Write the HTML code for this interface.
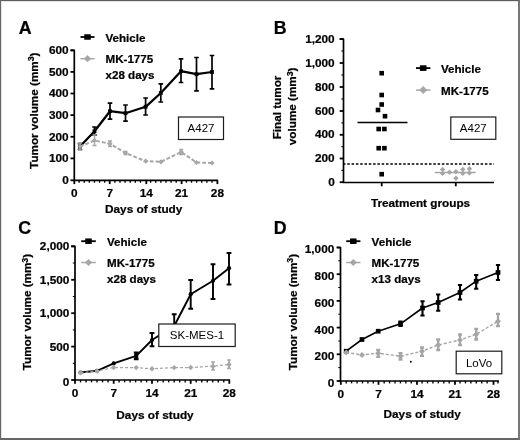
<!DOCTYPE html>
<html><head><meta charset="utf-8"><title>Figure</title>
<style>
html,body{margin:0;padding:0;background:#fff;}
body{width:520px;height:440px;overflow:hidden;position:relative;}
#frame{position:absolute;left:0;top:0;width:520px;height:440px;box-sizing:border-box;border-top:1px solid #5e5e5e;border-left:1px solid #666;box-shadow:inset 1px 1px 0 #e2e2e2;border-right:2px solid #777;border-bottom:2.3px solid #666;pointer-events:none;}
svg{position:absolute;left:0;top:0;display:block;}
svg text{font-family:"Liberation Sans",sans-serif;fill:#000;}
svg text.b{stroke:#000;stroke-width:0.22px;}
</style></head><body>
<svg width="520" height="440" viewBox="0 0 520 440">
<g id="A">
<text class="b" x="18.8" y="33.8" font-size="17.8" font-weight="bold" text-anchor="start">A</text>
<path d="M70.5 50.3H74.3V180.3H218" stroke="#000" stroke-width="1.7" fill="none" stroke-linejoin="round"/>
<path d="M70.5 50.3H74.3" stroke="#000" stroke-width="1.8"/>
<text class="b" x="68.7" y="54.25" font-size="11.8" font-weight="bold" text-anchor="end">600</text>
<path d="M70.5 71.9H74.3" stroke="#000" stroke-width="1.8"/>
<text class="b" x="68.7" y="75.85" font-size="11.8" font-weight="bold" text-anchor="end">500</text>
<path d="M70.5 93.5H74.3" stroke="#000" stroke-width="1.8"/>
<text class="b" x="68.7" y="97.45" font-size="11.8" font-weight="bold" text-anchor="end">400</text>
<path d="M70.5 115.1H74.3" stroke="#000" stroke-width="1.8"/>
<text class="b" x="68.7" y="119.05" font-size="11.8" font-weight="bold" text-anchor="end">300</text>
<path d="M70.5 136.8H74.3" stroke="#000" stroke-width="1.8"/>
<text class="b" x="68.7" y="140.75" font-size="11.8" font-weight="bold" text-anchor="end">200</text>
<path d="M70.5 158.4H74.3" stroke="#000" stroke-width="1.8"/>
<text class="b" x="68.7" y="162.35" font-size="11.8" font-weight="bold" text-anchor="end">100</text>
<path d="M70.5 180.3H74.3" stroke="#000" stroke-width="1.8"/>
<text class="b" x="68.7" y="184.25" font-size="11.8" font-weight="bold" text-anchor="end">0</text>
<path d="M74.3 180.3V184.10000000000002" stroke="#000" stroke-width="1.8"/>
<text class="b" x="74.3" y="196.9" font-size="11.8" font-weight="bold" text-anchor="middle">0</text>
<path d="M109.7 180.3V184.10000000000002" stroke="#000" stroke-width="1.8"/>
<text class="b" x="109.7" y="196.9" font-size="11.8" font-weight="bold" text-anchor="middle">7</text>
<path d="M146.3 180.3V184.10000000000002" stroke="#000" stroke-width="1.8"/>
<text class="b" x="146.3" y="196.9" font-size="11.8" font-weight="bold" text-anchor="middle">14</text>
<path d="M181.6 180.3V184.10000000000002" stroke="#000" stroke-width="1.8"/>
<text class="b" x="181.6" y="196.9" font-size="11.8" font-weight="bold" text-anchor="middle">21</text>
<path d="M217.4 180.3V184.10000000000002" stroke="#000" stroke-width="1.8"/>
<text class="b" x="217.4" y="196.9" font-size="11.8" font-weight="bold" text-anchor="middle">28</text>
<path d="M79.11 180.3V182.70000000000002" stroke="#000" stroke-width="1.35"/>
<path d="M84.22 180.3V182.70000000000002" stroke="#000" stroke-width="1.35"/>
<path d="M89.33 180.3V182.70000000000002" stroke="#000" stroke-width="1.35"/>
<path d="M94.44 180.3V182.70000000000002" stroke="#000" stroke-width="1.35"/>
<path d="M99.55 180.3V182.70000000000002" stroke="#000" stroke-width="1.35"/>
<path d="M104.66 180.3V182.70000000000002" stroke="#000" stroke-width="1.35"/>
<path d="M114.88 180.3V182.70000000000002" stroke="#000" stroke-width="1.35"/>
<path d="M119.99 180.3V182.70000000000002" stroke="#000" stroke-width="1.35"/>
<path d="M125.10 180.3V182.70000000000002" stroke="#000" stroke-width="1.35"/>
<path d="M130.21 180.3V182.70000000000002" stroke="#000" stroke-width="1.35"/>
<path d="M135.32 180.3V182.70000000000002" stroke="#000" stroke-width="1.35"/>
<path d="M140.43 180.3V182.70000000000002" stroke="#000" stroke-width="1.35"/>
<path d="M150.65 180.3V182.70000000000002" stroke="#000" stroke-width="1.35"/>
<path d="M155.76 180.3V182.70000000000002" stroke="#000" stroke-width="1.35"/>
<path d="M160.87 180.3V182.70000000000002" stroke="#000" stroke-width="1.35"/>
<path d="M165.98 180.3V182.70000000000002" stroke="#000" stroke-width="1.35"/>
<path d="M171.09 180.3V182.70000000000002" stroke="#000" stroke-width="1.35"/>
<path d="M176.20 180.3V182.70000000000002" stroke="#000" stroke-width="1.35"/>
<path d="M186.42 180.3V182.70000000000002" stroke="#000" stroke-width="1.35"/>
<path d="M191.53 180.3V182.70000000000002" stroke="#000" stroke-width="1.35"/>
<path d="M196.64 180.3V182.70000000000002" stroke="#000" stroke-width="1.35"/>
<path d="M201.75 180.3V182.70000000000002" stroke="#000" stroke-width="1.35"/>
<path d="M206.86 180.3V182.70000000000002" stroke="#000" stroke-width="1.35"/>
<path d="M211.97 180.3V182.70000000000002" stroke="#000" stroke-width="1.35"/>
<text class="b" transform="translate(37.6 110.7) rotate(-90)" font-size="11.7" font-weight="bold" text-anchor="middle">Tumor volume (mm<tspan font-size="8.8" dy="-3.4">3</tspan><tspan dy="3.4">)</tspan></text>
<text class="b" x="143.7" y="212.7" font-size="11.8" font-weight="bold" text-anchor="middle">Days of study</text>
<polyline points="80.00,146.50 94.50,131.20 110.00,111.20 125.50,113.20 145.60,106.80 160.80,93.00 181.00,71.20 196.50,74.20 212.00,72.00" fill="none" stroke="#000" stroke-width="2.25" stroke-linejoin="round"/>
<path d="M80.00 143.50V149.50M77.70 143.50H82.30M77.70 149.50H82.30" stroke="#000" stroke-width="1.7" fill="none"/>
<rect x="78.10" y="144.60" width="3.8" height="3.8" fill="#000"/>
<path d="M94.50 127.00V135.20M92.20 127.00H96.80M92.20 135.20H96.80" stroke="#000" stroke-width="1.7" fill="none"/>
<rect x="92.60" y="129.30" width="3.8" height="3.8" fill="#000"/>
<path d="M110.00 103.20V119.20M107.70 103.20H112.30M107.70 119.20H112.30" stroke="#000" stroke-width="1.7" fill="none"/>
<rect x="108.10" y="109.30" width="3.8" height="3.8" fill="#000"/>
<path d="M125.50 105.00V121.20M123.20 105.00H127.80M123.20 121.20H127.80" stroke="#000" stroke-width="1.7" fill="none"/>
<rect x="123.60" y="111.30" width="3.8" height="3.8" fill="#000"/>
<path d="M145.60 98.00V115.00M143.30 98.00H147.90M143.30 115.00H147.90" stroke="#000" stroke-width="1.7" fill="none"/>
<rect x="143.70" y="104.90" width="3.8" height="3.8" fill="#000"/>
<path d="M160.80 83.80V102.00M158.50 83.80H163.10M158.50 102.00H163.10" stroke="#000" stroke-width="1.7" fill="none"/>
<rect x="158.90" y="91.10" width="3.8" height="3.8" fill="#000"/>
<path d="M181.00 58.80V82.50M178.70 58.80H183.30M178.70 82.50H183.30" stroke="#000" stroke-width="1.7" fill="none"/>
<rect x="179.10" y="69.30" width="3.8" height="3.8" fill="#000"/>
<path d="M196.50 57.50V90.80M194.20 57.50H198.80M194.20 90.80H198.80" stroke="#000" stroke-width="1.7" fill="none"/>
<rect x="194.60" y="72.30" width="3.8" height="3.8" fill="#000"/>
<path d="M212.00 55.50V88.80M209.70 55.50H214.30M209.70 88.80H214.30" stroke="#000" stroke-width="1.7" fill="none"/>
<rect x="210.10" y="70.10" width="3.8" height="3.8" fill="#000"/>
<polyline points="80.00,146.50 94.50,140.50 110.00,143.80 125.50,153.00 145.70,161.20 161.00,161.80 181.20,152.00 196.50,162.50 212.00,163.00" fill="none" stroke="#a6a6a6" stroke-width="2.0" stroke-dasharray="3.8 2" stroke-linejoin="round"/>
<path d="M80.00 143.00V150.00M78.00 143.00H82.00M78.00 150.00H82.00" stroke="#a6a6a6" stroke-width="1.4" fill="none"/>
<path d="M80.00 143.90L82.60 146.50L80.00 149.10L77.40 146.50Z" fill="#a6a6a6"/>
<path d="M94.50 135.00V145.50M92.50 135.00H96.50M92.50 145.50H96.50" stroke="#a6a6a6" stroke-width="1.4" fill="none"/>
<path d="M94.50 137.90L97.10 140.50L94.50 143.10L91.90 140.50Z" fill="#a6a6a6"/>
<path d="M110.00 141.00V146.50M108.00 141.00H112.00M108.00 146.50H112.00" stroke="#a6a6a6" stroke-width="1.4" fill="none"/>
<path d="M110.00 141.20L112.60 143.80L110.00 146.40L107.40 143.80Z" fill="#a6a6a6"/>
<path d="M125.50 151.50V154.50M123.50 151.50H127.50M123.50 154.50H127.50" stroke="#a6a6a6" stroke-width="1.4" fill="none"/>
<path d="M125.50 150.40L128.10 153.00L125.50 155.60L122.90 153.00Z" fill="#a6a6a6"/>
<path d="M145.70 158.60L148.30 161.20L145.70 163.80L143.10 161.20Z" fill="#a6a6a6"/>
<path d="M161.00 159.20L163.60 161.80L161.00 164.40L158.40 161.80Z" fill="#a6a6a6"/>
<path d="M181.20 149.50V154.50M179.20 149.50H183.20M179.20 154.50H183.20" stroke="#a6a6a6" stroke-width="1.4" fill="none"/>
<path d="M181.20 149.40L183.80 152.00L181.20 154.60L178.60 152.00Z" fill="#a6a6a6"/>
<path d="M196.50 159.90L199.10 162.50L196.50 165.10L193.90 162.50Z" fill="#a6a6a6"/>
<path d="M212.00 160.40L214.60 163.00L212.00 165.60L209.40 163.00Z" fill="#a6a6a6"/>
<path d="M80.5 37H94.5" stroke="#000" stroke-width="1.8"/>
<rect x="84.25" y="34.25" width="6.5" height="5.5" fill="#000"/>
<text class="b" x="105.5" y="41.7" font-size="11.6" font-weight="bold" text-anchor="start">Vehicle</text>
<path d="M80.5 58.7H94.5" stroke="#a6a6a6" stroke-width="1.5"/>
<path d="M87.50 55.10L91.10 58.70L87.50 62.30L83.90 58.70Z" fill="#a6a6a6"/>
<text class="b" x="105.5" y="63.3" font-size="11.6" font-weight="bold" text-anchor="start">MK-1775</text>
<text class="b" x="105.5" y="79.0" font-size="11.6" font-weight="bold" text-anchor="start">x28 days</text>
<rect x="178.5" y="117" width="45.0" height="22.5" fill="#fff" stroke="#1c1c1c" stroke-width="1.2"/><text x="201.0" y="132.45" font-size="11.5" font-weight="normal" text-anchor="middle">A427</text>
</g>
<g id="B">
<text class="b" x="273.8" y="33.9" font-size="17.8" font-weight="bold" text-anchor="start">B</text>
<path d="M339.7 39H343.5V182.5H494" stroke="#000" stroke-width="1.7" fill="none" stroke-linejoin="round"/>
<path d="M339.7 39H343.5" stroke="#000" stroke-width="1.8"/>
<text class="b" x="334.7" y="42.6" font-size="11.8" font-weight="bold" text-anchor="end">1,200</text>
<path d="M339.7 63H343.5" stroke="#000" stroke-width="1.8"/>
<text class="b" x="334.7" y="66.6" font-size="11.8" font-weight="bold" text-anchor="end">1,000</text>
<path d="M339.7 87H343.5" stroke="#000" stroke-width="1.8"/>
<text class="b" x="334.7" y="90.6" font-size="11.8" font-weight="bold" text-anchor="end">800</text>
<path d="M339.7 111H343.5" stroke="#000" stroke-width="1.8"/>
<text class="b" x="334.7" y="114.6" font-size="11.8" font-weight="bold" text-anchor="end">600</text>
<path d="M339.7 134.8H343.5" stroke="#000" stroke-width="1.8"/>
<text class="b" x="334.7" y="138.4" font-size="11.8" font-weight="bold" text-anchor="end">400</text>
<path d="M339.7 158.5H343.5" stroke="#000" stroke-width="1.8"/>
<text class="b" x="334.7" y="162.1" font-size="11.8" font-weight="bold" text-anchor="end">200</text>
<path d="M339.7 182.2H343.5" stroke="#000" stroke-width="1.8"/>
<text class="b" x="334.7" y="185.8" font-size="11.8" font-weight="bold" text-anchor="end">0</text>
<path d="M381.7 182.5V186.3" stroke="#000" stroke-width="1.8"/>
<path d="M455.8 182.5V186.3" stroke="#000" stroke-width="1.8"/>
<path d="M341.3 51.00H343.5" stroke="#000" stroke-width="1"/>
<path d="M341.3 75.00H343.5" stroke="#000" stroke-width="1"/>
<path d="M341.3 99.00H343.5" stroke="#000" stroke-width="1"/>
<path d="M341.3 122.90H343.5" stroke="#000" stroke-width="1"/>
<path d="M341.3 146.70H343.5" stroke="#000" stroke-width="1"/>
<path d="M341.3 170.40H343.5" stroke="#000" stroke-width="1"/>
<text class="b" transform="translate(280.5 107.5) rotate(-90)" font-size="11.7" font-weight="bold" text-anchor="middle">Final tumor</text>
<text class="b" transform="translate(296 106.3) rotate(-90)" font-size="11.7" font-weight="bold" text-anchor="middle">volume (mm<tspan font-size="8.8" dy="-3.4">3</tspan><tspan dy="3.4">)</tspan></text>
<text class="b" x="420.5" y="206.7" font-size="11.75" font-weight="bold" text-anchor="middle">Treatment groups</text>
<path d="M343 163.9H494" stroke="#000" stroke-width="1.5" stroke-dasharray="2.5 1.8"/>
<path d="M357.5 122.5H407.5" stroke="#000" stroke-width="1.6"/>
<rect x="379.40" y="70.90" width="4.6" height="4.6" fill="#000"/>
<rect x="379.40" y="92.70" width="4.6" height="4.6" fill="#000"/>
<rect x="379.40" y="102.20" width="4.6" height="4.6" fill="#000"/>
<rect x="375.70" y="107.70" width="4.6" height="4.6" fill="#000"/>
<rect x="382.70" y="113.90" width="4.6" height="4.6" fill="#000"/>
<rect x="376.40" y="126.70" width="4.6" height="4.6" fill="#000"/>
<rect x="382.10" y="126.70" width="4.6" height="4.6" fill="#000"/>
<rect x="376.40" y="145.90" width="4.6" height="4.6" fill="#000"/>
<rect x="382.10" y="145.90" width="4.6" height="4.6" fill="#000"/>
<rect x="379.40" y="171.90" width="4.6" height="4.6" fill="#000"/>
<path d="M434.8 172.5H475.7" stroke="#a6a6a6" stroke-width="1.3"/>
<path d="M442.60 166.70L445.30 169.40L442.60 172.10L439.90 169.40Z" fill="#a6a6a6"/>
<path d="M442.60 170.70L445.30 173.40L442.60 176.10L439.90 173.40Z" fill="#a6a6a6"/>
<path d="M449.50 169.50L452.20 172.20L449.50 174.90L446.80 172.20Z" fill="#a6a6a6"/>
<path d="M455.90 169.00L458.60 171.70L455.90 174.40L453.20 171.70Z" fill="#a6a6a6"/>
<path d="M462.80 166.70L465.50 169.40L462.80 172.10L460.10 169.40Z" fill="#a6a6a6"/>
<path d="M462.80 170.70L465.50 173.40L462.80 176.10L460.10 173.40Z" fill="#a6a6a6"/>
<path d="M469.40 166.00L472.10 168.70L469.40 171.40L466.70 168.70Z" fill="#a6a6a6"/>
<path d="M469.40 170.20L472.10 172.90L469.40 175.60L466.70 172.90Z" fill="#a6a6a6"/>
<path d="M455.90 175.60L458.60 178.30L455.90 181.00L453.20 178.30Z" fill="#a6a6a6"/>
<path d="M416 68.1H430.4" stroke="#000" stroke-width="1.8"/>
<rect x="419.90" y="65.30" width="6.6" height="5.6" fill="#000"/>
<text class="b" x="441" y="73.3" font-size="11.6" font-weight="bold" text-anchor="start">Vehicle</text>
<path d="M416 90.1H430.4" stroke="#a6a6a6" stroke-width="1.5"/>
<path d="M423.20 86.10L427.20 90.10L423.20 94.10L419.20 90.10Z" fill="#a6a6a6"/>
<text class="b" x="441" y="95.2" font-size="11.6" font-weight="bold" text-anchor="start">MK-1775</text>
<rect x="450.8" y="117" width="45.0" height="22.30000000000001" fill="#fff" stroke="#1c1c1c" stroke-width="1.2"/><text x="473.3" y="132.35" font-size="11.5" font-weight="normal" text-anchor="middle">A427</text>
</g>
<g id="C">
<text class="b" x="18.2" y="233.8" font-size="17.8" font-weight="bold" text-anchor="start">C</text>
<path d="M71.2 246.3H75V380H230" stroke="#000" stroke-width="1.7" fill="none" stroke-linejoin="round"/>
<path d="M71.2 246.3H75" stroke="#000" stroke-width="1.8"/>
<text class="b" x="69.4" y="250.25" font-size="11.8" font-weight="bold" text-anchor="end">2,000</text>
<path d="M71.2 279.8H75" stroke="#000" stroke-width="1.8"/>
<text class="b" x="69.4" y="283.75" font-size="11.8" font-weight="bold" text-anchor="end">1,500</text>
<path d="M71.2 313.2H75" stroke="#000" stroke-width="1.8"/>
<text class="b" x="69.4" y="317.15" font-size="11.8" font-weight="bold" text-anchor="end">1,000</text>
<path d="M71.2 346.6H75" stroke="#000" stroke-width="1.8"/>
<text class="b" x="69.4" y="350.55" font-size="11.8" font-weight="bold" text-anchor="end">500</text>
<path d="M71.2 380H75" stroke="#000" stroke-width="1.8"/>
<text class="b" x="69.4" y="385.55" font-size="11.8" font-weight="bold" text-anchor="end">0</text>
<path d="M75 380V383.8" stroke="#000" stroke-width="1.8"/>
<text class="b" x="75" y="397.2" font-size="11.8" font-weight="bold" text-anchor="middle">0</text>
<path d="M113.7 380V383.8" stroke="#000" stroke-width="1.8"/>
<text class="b" x="113.7" y="397.2" font-size="11.8" font-weight="bold" text-anchor="middle">7</text>
<path d="M152 380V383.8" stroke="#000" stroke-width="1.8"/>
<text class="b" x="152" y="397.2" font-size="11.8" font-weight="bold" text-anchor="middle">14</text>
<path d="M190.7 380V383.8" stroke="#000" stroke-width="1.8"/>
<text class="b" x="190.7" y="397.2" font-size="11.8" font-weight="bold" text-anchor="middle">21</text>
<path d="M229.3 380V383.8" stroke="#000" stroke-width="1.8"/>
<text class="b" x="229.3" y="397.2" font-size="11.8" font-weight="bold" text-anchor="middle">28</text>
<path d="M80.51 380V382.4" stroke="#000" stroke-width="1.35"/>
<path d="M86.02 380V382.4" stroke="#000" stroke-width="1.35"/>
<path d="M91.53 380V382.4" stroke="#000" stroke-width="1.35"/>
<path d="M97.04 380V382.4" stroke="#000" stroke-width="1.35"/>
<path d="M102.55 380V382.4" stroke="#000" stroke-width="1.35"/>
<path d="M108.06 380V382.4" stroke="#000" stroke-width="1.35"/>
<path d="M119.08 380V382.4" stroke="#000" stroke-width="1.35"/>
<path d="M124.59 380V382.4" stroke="#000" stroke-width="1.35"/>
<path d="M130.10 380V382.4" stroke="#000" stroke-width="1.35"/>
<path d="M135.61 380V382.4" stroke="#000" stroke-width="1.35"/>
<path d="M141.12 380V382.4" stroke="#000" stroke-width="1.35"/>
<path d="M146.63 380V382.4" stroke="#000" stroke-width="1.35"/>
<path d="M157.65 380V382.4" stroke="#000" stroke-width="1.35"/>
<path d="M163.16 380V382.4" stroke="#000" stroke-width="1.35"/>
<path d="M168.67 380V382.4" stroke="#000" stroke-width="1.35"/>
<path d="M174.18 380V382.4" stroke="#000" stroke-width="1.35"/>
<path d="M179.69 380V382.4" stroke="#000" stroke-width="1.35"/>
<path d="M185.20 380V382.4" stroke="#000" stroke-width="1.35"/>
<path d="M196.22 380V382.4" stroke="#000" stroke-width="1.35"/>
<path d="M201.73 380V382.4" stroke="#000" stroke-width="1.35"/>
<path d="M207.24 380V382.4" stroke="#000" stroke-width="1.35"/>
<path d="M212.75 380V382.4" stroke="#000" stroke-width="1.35"/>
<path d="M218.26 380V382.4" stroke="#000" stroke-width="1.35"/>
<path d="M223.77 380V382.4" stroke="#000" stroke-width="1.35"/>
<path d="M72.8 263.00H75" stroke="#000" stroke-width="1"/>
<path d="M72.8 296.50H75" stroke="#000" stroke-width="1"/>
<path d="M72.8 330.00H75" stroke="#000" stroke-width="1"/>
<path d="M72.8 363.30H75" stroke="#000" stroke-width="1"/>
<text class="b" transform="translate(31 312) rotate(-90)" font-size="11.7" font-weight="bold" text-anchor="middle">Tumor volume (mm<tspan font-size="8.8" dy="-3.4">3</tspan><tspan dy="3.4">)</tspan></text>
<text class="b" x="155" y="418.5" font-size="11.8" font-weight="bold" text-anchor="middle">Days of study</text>
<polyline points="80.50,372.50 97.00,370.80 113.70,363.40 136.20,355.80 152.00,340.00 174.20,326.00 190.70,294.20 213.00,280.80 229.00,268.20" fill="none" stroke="#000" stroke-width="1.9" stroke-linejoin="round"/>
<circle cx="80.5" cy="372.5" r="2.1" fill="#000"/>
<circle cx="97" cy="370.8" r="2.1" fill="#000"/>
<circle cx="113.7" cy="363.4" r="2.1" fill="#000"/>
<path d="M136.20 352.50V359.20M133.80 352.50H138.60M133.80 359.20H138.60" stroke="#000" stroke-width="1.9" fill="none"/>
<circle cx="136.2" cy="355.8" r="2.1" fill="#000"/>
<path d="M152.00 333.00V346.20M149.60 333.00H154.40M149.60 346.20H154.40" stroke="#000" stroke-width="1.9" fill="none"/>
<circle cx="152" cy="340" r="2.1" fill="#000"/>
<path d="M174.20 314.20V332.00M171.80 314.20H176.60M171.80 332.00H176.60" stroke="#000" stroke-width="1.9" fill="none"/>
<circle cx="174.2" cy="326" r="2.1" fill="#000"/>
<path d="M190.70 280.00V308.80M188.30 280.00H193.10M188.30 308.80H193.10" stroke="#000" stroke-width="1.9" fill="none"/>
<circle cx="190.7" cy="294.2" r="2.1" fill="#000"/>
<path d="M213.00 264.20V299.00M210.60 264.20H215.40M210.60 299.00H215.40" stroke="#000" stroke-width="1.9" fill="none"/>
<circle cx="213" cy="280.8" r="2.1" fill="#000"/>
<path d="M229.00 253.00V284.50M226.60 253.00H231.40M226.60 284.50H231.40" stroke="#000" stroke-width="1.9" fill="none"/>
<circle cx="229" cy="268.2" r="2.1" fill="#000"/>
<rect x="134.3" y="352.3" width="3.9" height="7.2" fill="#000"/>
<polyline points="80.50,372.80 97.00,371.00 113.70,367.50 136.20,367.60 152.00,368.80 174.20,367.60 190.70,367.50 213.00,366.20 229.00,364.50" fill="none" stroke="#a6a6a6" stroke-width="1.25" stroke-dasharray="3 2" stroke-linejoin="round"/>
<path d="M80.50 370.10L83.20 372.80L80.50 375.50L77.80 372.80Z" fill="#a6a6a6"/>
<path d="M97.00 368.30L99.70 371.00L97.00 373.70L94.30 371.00Z" fill="#a6a6a6"/>
<path d="M113.70 364.80L116.40 367.50L113.70 370.20L111.00 367.50Z" fill="#a6a6a6"/>
<path d="M136.20 364.90L138.90 367.60L136.20 370.30L133.50 367.60Z" fill="#a6a6a6"/>
<path d="M152.00 366.10L154.70 368.80L152.00 371.50L149.30 368.80Z" fill="#a6a6a6"/>
<path d="M174.20 364.90L176.90 367.60L174.20 370.30L171.50 367.60Z" fill="#a6a6a6"/>
<path d="M190.70 364.80L193.40 367.50L190.70 370.20L188.00 367.50Z" fill="#a6a6a6"/>
<path d="M213.00 362.00V370.00M211.10 362.00H214.90M211.10 370.00H214.90" stroke="#a6a6a6" stroke-width="1.7" fill="none"/>
<path d="M213.00 363.50L215.70 366.20L213.00 368.90L210.30 366.20Z" fill="#a6a6a6"/>
<path d="M229.00 360.00V368.30M227.10 360.00H230.90M227.10 368.30H230.90" stroke="#a6a6a6" stroke-width="1.7" fill="none"/>
<path d="M229.00 361.80L231.70 364.50L229.00 367.20L226.30 364.50Z" fill="#a6a6a6"/>
<path d="M81.2 241.2H95.8" stroke="#000" stroke-width="1.8"/>
<rect x="85.25" y="238.45" width="6.5" height="5.5" fill="#000"/>
<text class="b" x="107" y="245.9" font-size="11.6" font-weight="bold" text-anchor="start">Vehicle</text>
<path d="M81.2 262.5H95.8" stroke="#a6a6a6" stroke-width="1.5"/>
<path d="M88.50 258.90L92.10 262.50L88.50 266.10L84.90 262.50Z" fill="#a6a6a6"/>
<text class="b" x="107" y="267.1" font-size="11.6" font-weight="bold" text-anchor="start">MK-1775</text>
<text class="b" x="107" y="282.8" font-size="11.6" font-weight="bold" text-anchor="start">x28 days</text>
<rect x="158.8" y="324" width="76.39999999999998" height="22.5" fill="#fff" stroke="#1c1c1c" stroke-width="1.2"/><text x="197.0" y="339.45" font-size="11.5" font-weight="normal" text-anchor="middle">SK-MES-1</text>
</g>
<g id="D">
<text class="b" x="273.8" y="233.9" font-size="17.8" font-weight="bold" text-anchor="start">D</text>
<path d="M336.7 247.5H340.5V381H499" stroke="#000" stroke-width="1.7" fill="none" stroke-linejoin="round"/>
<path d="M336.7 247.5H340.5" stroke="#000" stroke-width="1.8"/>
<text class="b" x="334.3" y="253.4" font-size="11.8" font-weight="bold" text-anchor="end">1,000</text>
<path d="M336.7 274.2H340.5" stroke="#000" stroke-width="1.8"/>
<text class="b" x="334.3" y="280.1" font-size="11.8" font-weight="bold" text-anchor="end">800</text>
<path d="M336.7 300.9H340.5" stroke="#000" stroke-width="1.8"/>
<text class="b" x="334.3" y="306.8" font-size="11.8" font-weight="bold" text-anchor="end">600</text>
<path d="M336.7 327.6H340.5" stroke="#000" stroke-width="1.8"/>
<text class="b" x="334.3" y="333.5" font-size="11.8" font-weight="bold" text-anchor="end">400</text>
<path d="M336.7 354.3H340.5" stroke="#000" stroke-width="1.8"/>
<text class="b" x="334.3" y="360.2" font-size="11.8" font-weight="bold" text-anchor="end">200</text>
<path d="M336.7 381H340.5" stroke="#000" stroke-width="1.8"/>
<text class="b" x="334.3" y="386.9" font-size="11.8" font-weight="bold" text-anchor="end">0</text>
<path d="M340.8 381V384.8" stroke="#000" stroke-width="1.8"/>
<text class="b" x="340.8" y="398.2" font-size="11.8" font-weight="bold" text-anchor="middle">0</text>
<path d="M378.5 381V384.8" stroke="#000" stroke-width="1.8"/>
<text class="b" x="378.5" y="398.2" font-size="11.8" font-weight="bold" text-anchor="middle">7</text>
<path d="M417 381V384.8" stroke="#000" stroke-width="1.8"/>
<text class="b" x="417" y="398.2" font-size="11.8" font-weight="bold" text-anchor="middle">14</text>
<path d="M455 381V384.8" stroke="#000" stroke-width="1.8"/>
<text class="b" x="455" y="398.2" font-size="11.8" font-weight="bold" text-anchor="middle">21</text>
<path d="M493.5 381V384.8" stroke="#000" stroke-width="1.8"/>
<text class="b" x="493.5" y="398.2" font-size="11.8" font-weight="bold" text-anchor="middle">28</text>
<path d="M346.22 381V383.4" stroke="#000" stroke-width="1.35"/>
<path d="M351.64 381V383.4" stroke="#000" stroke-width="1.35"/>
<path d="M357.06 381V383.4" stroke="#000" stroke-width="1.35"/>
<path d="M362.48 381V383.4" stroke="#000" stroke-width="1.35"/>
<path d="M367.90 381V383.4" stroke="#000" stroke-width="1.35"/>
<path d="M373.32 381V383.4" stroke="#000" stroke-width="1.35"/>
<path d="M384.16 381V383.4" stroke="#000" stroke-width="1.35"/>
<path d="M389.58 381V383.4" stroke="#000" stroke-width="1.35"/>
<path d="M395.00 381V383.4" stroke="#000" stroke-width="1.35"/>
<path d="M400.42 381V383.4" stroke="#000" stroke-width="1.35"/>
<path d="M405.84 381V383.4" stroke="#000" stroke-width="1.35"/>
<path d="M411.26 381V383.4" stroke="#000" stroke-width="1.35"/>
<path d="M422.10 381V383.4" stroke="#000" stroke-width="1.35"/>
<path d="M427.52 381V383.4" stroke="#000" stroke-width="1.35"/>
<path d="M432.94 381V383.4" stroke="#000" stroke-width="1.35"/>
<path d="M438.36 381V383.4" stroke="#000" stroke-width="1.35"/>
<path d="M443.78 381V383.4" stroke="#000" stroke-width="1.35"/>
<path d="M449.20 381V383.4" stroke="#000" stroke-width="1.35"/>
<path d="M460.04 381V383.4" stroke="#000" stroke-width="1.35"/>
<path d="M465.46 381V383.4" stroke="#000" stroke-width="1.35"/>
<path d="M470.88 381V383.4" stroke="#000" stroke-width="1.35"/>
<path d="M476.30 381V383.4" stroke="#000" stroke-width="1.35"/>
<path d="M481.72 381V383.4" stroke="#000" stroke-width="1.35"/>
<path d="M487.14 381V383.4" stroke="#000" stroke-width="1.35"/>
<path d="M497.98 381V383.4" stroke="#000" stroke-width="1.35"/>
<path d="M338.3 260.80H340.5" stroke="#000" stroke-width="1"/>
<path d="M338.3 287.50H340.5" stroke="#000" stroke-width="1"/>
<path d="M338.3 314.20H340.5" stroke="#000" stroke-width="1"/>
<path d="M338.3 341.00H340.5" stroke="#000" stroke-width="1"/>
<path d="M338.3 367.60H340.5" stroke="#000" stroke-width="1"/>
<text class="b" transform="translate(296.8 312) rotate(-90)" font-size="11.7" font-weight="bold" text-anchor="middle">Tumor volume (mm<tspan font-size="8.8" dy="-3.4">3</tspan><tspan dy="3.4">)</tspan></text>
<text class="b" x="422.2" y="417.8" font-size="11.8" font-weight="bold" text-anchor="middle">Days of study</text>
<polyline points="346.20,351.20 362.00,339.50 378.20,331.20 400.50,323.80 422.50,308.00 438.20,302.50 460.00,292.50 476.20,281.20 498.00,272.50" fill="none" stroke="#000" stroke-width="1.6" stroke-linejoin="round"/>
<rect x="343.85" y="348.85" width="4.7" height="4.7" fill="#000"/>
<rect x="359.65" y="337.15" width="4.7" height="4.7" fill="#000"/>
<rect x="375.85" y="328.85" width="4.7" height="4.7" fill="#000"/>
<path d="M400.50 321.50V326.00M398.40 321.50H402.60M398.40 326.00H402.60" stroke="#000" stroke-width="2.1" fill="none"/>
<rect x="398.15" y="321.45" width="4.7" height="4.7" fill="#000"/>
<path d="M422.50 301.20V315.50M420.40 301.20H424.60M420.40 315.50H424.60" stroke="#000" stroke-width="2.1" fill="none"/>
<rect x="420.15" y="305.65" width="4.7" height="4.7" fill="#000"/>
<path d="M438.20 294.50V310.80M436.10 294.50H440.30M436.10 310.80H440.30" stroke="#000" stroke-width="2.1" fill="none"/>
<rect x="435.85" y="300.15" width="4.7" height="4.7" fill="#000"/>
<path d="M460.00 285.00V299.50M457.90 285.00H462.10M457.90 299.50H462.10" stroke="#000" stroke-width="2.1" fill="none"/>
<rect x="457.65" y="290.15" width="4.7" height="4.7" fill="#000"/>
<path d="M476.20 275.00V288.80M474.10 275.00H478.30M474.10 288.80H478.30" stroke="#000" stroke-width="2.1" fill="none"/>
<rect x="473.85" y="278.85" width="4.7" height="4.7" fill="#000"/>
<path d="M498.00 265.00V280.00M495.90 265.00H500.10M495.90 280.00H500.10" stroke="#000" stroke-width="2.1" fill="none"/>
<rect x="495.65" y="270.15" width="4.7" height="4.7" fill="#000"/>
<polyline points="346.20,352.50 362.00,355.00 378.20,353.20 400.50,356.20 422.00,351.20 438.20,345.00 460.00,340.00 476.20,334.20 498.00,321.30" fill="none" stroke="#a6a6a6" stroke-width="1.4" stroke-dasharray="3 2" stroke-linejoin="round"/>
<path d="M346.20 349.50L349.20 352.50L346.20 355.50L343.20 352.50Z" fill="#a6a6a6"/>
<path d="M362.00 352.00L365.00 355.00L362.00 358.00L359.00 355.00Z" fill="#a6a6a6"/>
<path d="M378.20 350.00V356.80M376.20 350.00H380.20M376.20 356.80H380.20" stroke="#a6a6a6" stroke-width="2.3" fill="none"/>
<path d="M378.20 350.20L381.20 353.20L378.20 356.20L375.20 353.20Z" fill="#a6a6a6"/>
<path d="M400.50 353.20V359.50M398.50 353.20H402.50M398.50 359.50H402.50" stroke="#a6a6a6" stroke-width="2.3" fill="none"/>
<path d="M400.50 353.20L403.50 356.20L400.50 359.20L397.50 356.20Z" fill="#a6a6a6"/>
<path d="M422.00 347.50V355.80M420.00 347.50H424.00M420.00 355.80H424.00" stroke="#a6a6a6" stroke-width="2.3" fill="none"/>
<path d="M422.00 348.20L425.00 351.20L422.00 354.20L419.00 351.20Z" fill="#a6a6a6"/>
<path d="M438.20 339.50V350.00M436.20 339.50H440.20M436.20 350.00H440.20" stroke="#a6a6a6" stroke-width="2.3" fill="none"/>
<path d="M438.20 342.00L441.20 345.00L438.20 348.00L435.20 345.00Z" fill="#a6a6a6"/>
<path d="M460.00 334.50V345.00M458.00 334.50H462.00M458.00 345.00H462.00" stroke="#a6a6a6" stroke-width="2.3" fill="none"/>
<path d="M460.00 337.00L463.00 340.00L460.00 343.00L457.00 340.00Z" fill="#a6a6a6"/>
<path d="M476.20 328.80V339.50M474.20 328.80H478.20M474.20 339.50H478.20" stroke="#a6a6a6" stroke-width="2.3" fill="none"/>
<path d="M476.20 331.20L479.20 334.20L476.20 337.20L473.20 334.20Z" fill="#a6a6a6"/>
<path d="M498.00 313.80V326.20M496.00 313.80H500.00M496.00 326.20H500.00" stroke="#a6a6a6" stroke-width="2.3" fill="none"/>
<path d="M498.00 318.30L501.00 321.30L498.00 324.30L495.00 321.30Z" fill="#a6a6a6"/>
<circle cx="410.8" cy="361.8" r="1.0" fill="#000"/>
<path d="M346.2 241.2H360.4" stroke="#000" stroke-width="1.8"/>
<rect x="350.05" y="238.45" width="6.5" height="5.5" fill="#000"/>
<text class="b" x="371.6" y="245.9" font-size="11.6" font-weight="bold" text-anchor="start">Vehicle</text>
<path d="M346.2 262.5H360.4" stroke="#a6a6a6" stroke-width="1.5"/>
<path d="M353.30 258.90L356.90 262.50L353.30 266.10L349.70 262.50Z" fill="#a6a6a6"/>
<text class="b" x="371.6" y="267.1" font-size="11.6" font-weight="bold" text-anchor="start">MK-1775</text>
<text class="b" x="371.6" y="282.8" font-size="11.6" font-weight="bold" text-anchor="start">x13 days</text>
<rect x="456.2" y="351.2" width="45.60000000000002" height="22.600000000000023" fill="#fff" stroke="#1c1c1c" stroke-width="1.2"/><text x="479.0" y="366.7" font-size="11.5" font-weight="normal" text-anchor="middle">LoVo</text>
</g>
</svg>
<div id="frame"></div>
</body></html>
